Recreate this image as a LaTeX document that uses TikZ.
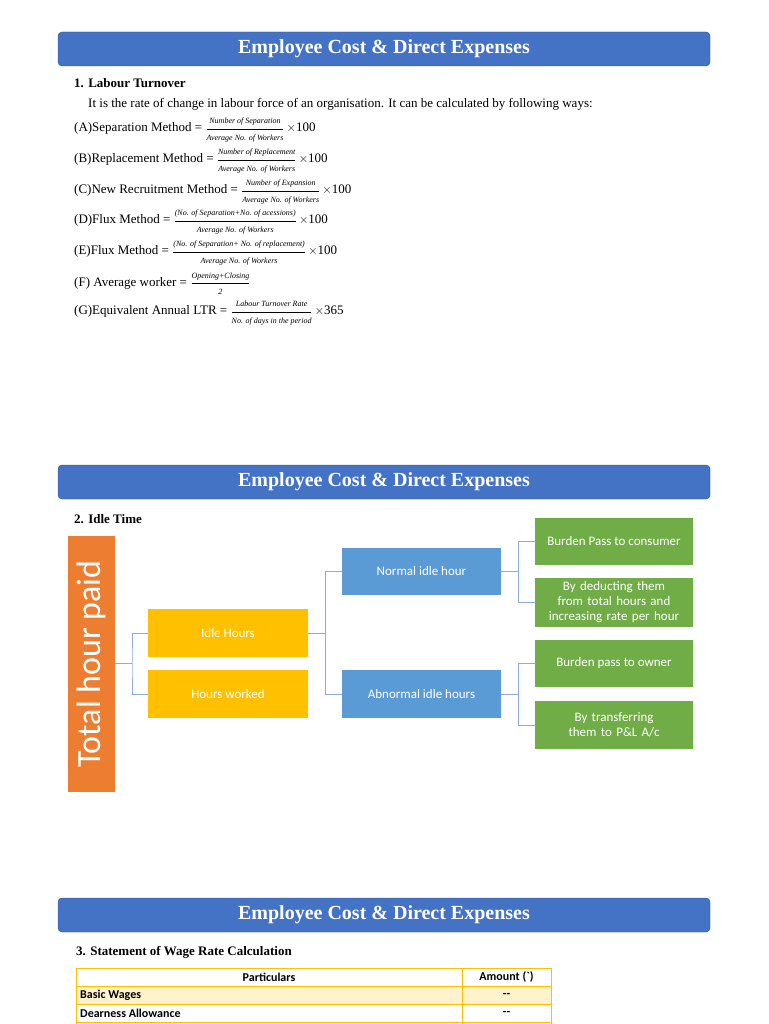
\documentclass[tikz,border=0pt]{standalone}
\usepackage{amsmath}
\usepackage{fontspec}
\setmainfont{Liberation Serif}
\newfontfamily\carl{Carlito}
\usetikzlibrary{positioning}
\definecolor{hdr}{HTML}{4472C4}
\definecolor{org}{HTML}{ED7D31}
\definecolor{yel}{HTML}{FFC000}
\definecolor{blu}{HTML}{5B9BD5}
\definecolor{grn}{HTML}{70AD47}
\definecolor{lnk}{HTML}{8FAADC}
\definecolor{rowf}{HTML}{FFF2CC}
\newcommand{\fr}[2]{$\dfrac{\text{\fontsize{8}{9}\selectfont\itshape #1}}{\text{\fontsize{8}{9}\selectfont\itshape #2}}$}
\begin{document}
\begin{tikzpicture}[x=1pt,y=-1pt,
  hbar/.style={draw=hdr!70!black,fill=hdr,rounded corners=4pt},
  ftxt/.style={anchor=west,inner sep=0,font=\fontsize{13}{15}\selectfont},
  bx/.style={text=white,font=\carl\fontsize{13}{15}\selectfont,align=center,inner sep=1pt},
  lk/.style={draw=lnk,line width=0.8pt},
  cell/.style={font=\carl\bfseries\fontsize{12}{14}\selectfont,inner sep=0}]
\useasboundingbox (0,0) rectangle (768,1024);
\fill[white] (0,0) rectangle (768,1024);
% headers
\foreach \y/\n in {32/h1,465/h2,898/h3}{
  \draw[hbar] (58,\y) rectangle (710,\y+34);
  \node[text=white,font=\fontsize{20}{24}\selectfont\bfseries] (\n) at (384,\y+17) {Employee Cost \& Direct Expenses};
}
% section 1
\node[ftxt,font=\fontsize{13}{15}\selectfont\bfseries] (t1) at (74,83) {1. Labour Turnover};
\node[ftxt] (p1) at (88,104) {It is the rate of change in labour force of an organisation. It can be calculated by following ways:};
\node[ftxt] (fa) at (74,130) {(A)Separation Method = \fr{Number of Separation}{Average No. of Workers}\,$\times$100};
\node[ftxt] (fb) at (74,161) {(B)Replacement Method = \fr{Number of Replacement}{Average No. of Workers}\,$\times$100};
\node[ftxt] (fc) at (74,192) {(C)New Recruitment Method = \fr{Number of Expansion}{Average No. of Workers}\,$\times$100};
\node[ftxt] (fd) at (74,222) {(D)Flux Method = \fr{(No. of Separation+No. of acessions)}{Average No. of Workers}\,$\times$100};
\node[ftxt] (fe) at (74,253) {(E)Flux Method = \fr{(No. of Separation+ No. of replacement)}{Average No. of Workers}\,$\times$100};
\node[ftxt] (ff) at (74,284) {(F) Average worker = \fr{Opening+Closing}{2}};
\node[ftxt] (fg) at (74,313) {(G)Equivalent Annual LTR = \fr{Labour Turnover Rate}{No. of days in the period}\,$\times$365};
% section 2
\node[ftxt,font=\fontsize{13}{15}\selectfont\bfseries] (t2) at (74,519) {2. Idle Time};
\node[fill=org,minimum width=47pt,minimum height=256pt,inner sep=0] (tot) at (91.5,664) {};
\node[rotate=90,text=white,font=\carl\fontsize{34}{36}\selectfont] at (91.5,664) {Total hour paid};
\node[bx,fill=yel,minimum width=160pt,minimum height=48pt] (ih) at (228,633) {Idle Hours};
\node[bx,fill=yel,minimum width=160pt,minimum height=48pt] (hw) at (228,694) {Hours worked};
\node[bx,fill=blu,minimum width=159pt,minimum height=47pt] (ni) at (421.5,571.5) {Normal idle hour};
\node[bx,fill=blu,minimum width=159pt,minimum height=48pt] (ai) at (421.5,694) {Abnormal idle hours};
\node[bx,fill=grn,minimum width=158pt,minimum height=47pt] (g1) at (614,541.5) {Burden Pass to consumer};
\node[bx,fill=grn,minimum width=158pt,minimum height=49pt,text width=150pt] (g2) at (614,602.5) {By deducting them from total hours and increasing rate per hour};
\node[bx,fill=grn,minimum width=158pt,minimum height=47pt] (g3) at (614,663.5) {Burden pass to owner};
\node[bx,fill=grn,minimum width=158pt,minimum height=48pt,text width=150pt] (g4) at (614,725) {By transferring them to P\&L A/c};
\coordinate (o1) at (115,663.5);
\draw[lk] (o1) -- ++(17,0) coordinate (b1);
\draw[lk] (ih.west) -| (b1) |- (hw.west);
\draw[lk] (ih.east) -- ++(17,0) coordinate (b2);
\draw[lk] (ni.west) -| (b2) |- (ai.west);
\draw[lk] (ni.east) -- ++(17,0) coordinate (b3);
\draw[lk] (g1.west) -| (b3) |- (g2.west);
\draw[lk] (ai.east) -- ++(17,0) coordinate (b4);
\draw[lk] (g3.west) -| (b4) |- (g4.west);
% section 3
\node[ftxt,font=\fontsize{13}{15}\selectfont\bfseries] (t3) at (76,952) {3. Statement of Wage Rate Calculation};
\fill[rowf] (76,986) rectangle (551,1004);
\draw[yel,line width=1pt] (76,1030) -- (76,968) -- (551,968) -- (551,1030);
\foreach \y in {986,1004,1022} \draw[yel,line width=1pt] (76,\y) -- (551,\y);
\draw[yel,line width=1pt] (462,968) -- (462,1030);
\node[cell] (c1) at (269,977) {Particulars};
\node[cell] (c2) at (506.5,977) {Amount (`)};
\node[cell,anchor=west] (c3) at (80,995) {Basic Wages};
\node[cell] (c4) at (506.5,995) {--};
\node[cell,anchor=west] (c5) at (80,1013) {Dearness Allowance};
\node[cell] (c6) at (506.5,1013) {--};
\end{tikzpicture}
\end{document}
